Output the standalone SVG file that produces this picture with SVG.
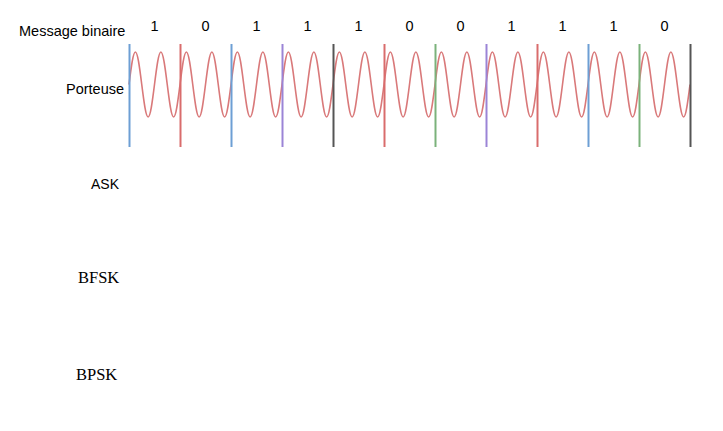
<svg xmlns="http://www.w3.org/2000/svg" width="723" height="431" viewBox="0 0 723 431">
<style>
.sans{font-family:"Liberation Sans",Arial,sans-serif;font-size:14.5px;fill:#000}
.serif{font-family:"Liberation Serif","Times New Roman",serif;font-size:16.5px;fill:#000}
.bit{font-family:"Liberation Sans",Arial,sans-serif;font-size:14.5px;fill:#000;text-anchor:middle}
.v{stroke-width:2;fill:none}
</style>
<rect width="723" height="431" fill="#fff"/>
<g id="labels">
<text class="sans" x="19" y="36">Message binaire</text>
<text class="sans" x="66" y="94">Porteuse</text>
<text class="sans" x="91" y="189" style="font-size:14px">ASK</text>
<text class="serif" x="78" y="283">BFSK</text>
<text class="serif" x="76" y="380">BPSK</text>
</g>
<g id="bits">
<text class="bit" x="154.5" y="31">1</text>
<text class="bit" x="205.5" y="31">0</text>
<text class="bit" x="256.5" y="31">1</text>
<text class="bit" x="307.5" y="31">1</text>
<text class="bit" x="358.5" y="31">1</text>
<text class="bit" x="409.5" y="31">0</text>
<text class="bit" x="460.5" y="31">0</text>
<text class="bit" x="511.5" y="31">1</text>
<text class="bit" x="562.5" y="31">1</text>
<text class="bit" x="613.5" y="31">1</text>
<text class="bit" x="664.5" y="31">0</text>
</g>
<g id="carrier">
<path fill="none" stroke="#d9797a" stroke-width="1.6" d="M129,84.5 c2.131,-17.07 4.066,-32.5 6.375,-32.5
s4.244,15.43 6.375,32.5 s4.066,32.5 6.375,32.5 s4.244,-15.43 6.375,-32.5 s4.066,-32.5 6.375,-32.5
s4.244,15.43 6.375,32.5 s4.066,32.5 6.375,32.5 s4.244,-15.43 6.375,-32.5 s4.066,-32.5 6.375,-32.5
s4.244,15.43 6.375,32.5 s4.066,32.5 6.375,32.5 s4.244,-15.43 6.375,-32.5 s4.066,-32.5 6.375,-32.5
s4.244,15.43 6.375,32.5 s4.066,32.5 6.375,32.5 s4.244,-15.43 6.375,-32.5 s4.066,-32.5 6.375,-32.5
s4.244,15.43 6.375,32.5 s4.066,32.5 6.375,32.5 s4.244,-15.43 6.375,-32.5 s4.066,-32.5 6.375,-32.5
s4.244,15.43 6.375,32.5 s4.066,32.5 6.375,32.5 s4.244,-15.43 6.375,-32.5 s4.066,-32.5 6.375,-32.5
s4.244,15.43 6.375,32.5 s4.066,32.5 6.375,32.5 s4.244,-15.43 6.375,-32.5 s4.066,-32.5 6.375,-32.5
s4.244,15.43 6.375,32.5 s4.066,32.5 6.375,32.5 s4.244,-15.43 6.375,-32.5 s4.066,-32.5 6.375,-32.5
s4.244,15.43 6.375,32.5 s4.066,32.5 6.375,32.5 s4.244,-15.43 6.375,-32.5 s4.066,-32.5 6.375,-32.5
s4.244,15.43 6.375,32.5 s4.066,32.5 6.375,32.5 s4.244,-15.43 6.375,-32.5 s4.066,-32.5 6.375,-32.5
s4.244,15.43 6.375,32.5 s4.066,32.5 6.375,32.5 s4.244,-15.43 6.375,-32.5 s4.066,-32.5 6.375,-32.5
s4.244,15.43 6.375,32.5 s4.066,32.5 6.375,32.5 s4.244,-15.43 6.375,-32.5 s4.066,-32.5 6.375,-32.5
s4.244,15.43 6.375,32.5 s4.066,32.5 6.375,32.5 s4.244,-15.43 6.375,-32.5 s4.066,-32.5 6.375,-32.5
s4.244,15.43 6.375,32.5 s4.066,32.5 6.375,32.5 s4.244,-15.43 6.375,-32.5 s4.066,-32.5 6.375,-32.5
s4.244,15.43 6.375,32.5 s4.066,32.5 6.375,32.5 s4.244,-15.43 6.375,-32.5 s4.066,-32.5 6.375,-32.5
s4.244,15.43 6.375,32.5 s4.066,32.5 6.375,32.5 s4.244,-15.43 6.375,-32.5 s4.066,-32.5 6.375,-32.5
s4.244,15.43 6.375,32.5 s4.066,32.5 6.375,32.5 s4.244,-15.43 6.375,-32.5 s4.066,-32.5 6.375,-32.5
s4.244,15.43 6.375,32.5 s4.066,32.5 6.375,32.5 s4.244,-15.43 6.375,-32.5 s4.066,-32.5 6.375,-32.5
s4.244,15.43 6.375,32.5 s4.066,32.5 6.375,32.5 s4.244,-15.43 6.375,-32.5 s4.066,-32.5 6.375,-32.5
s4.244,15.43 6.375,32.5 s4.066,32.5 6.375,32.5 s4.244,-15.43 6.375,-32.5 s4.066,-32.5 6.375,-32.5
s4.244,15.43 6.375,32.5 s4.066,32.5 6.375,32.5 s4.244,-15.43 6.375,-32.5 s4.066,-32.5 6.375,-32.5
s4.244,15.43 6.375,32.5 s4.066,32.5 6.375,32.5 s4.244,-15.43 6.375,-32.5"/>
</g>
<g id="separators">
<line class="v" x1="129.5" y1="44" x2="129.5" y2="147" stroke="#6d9fd4"/>
<line class="v" x1="180.5" y1="44" x2="180.5" y2="147" stroke="#d96c6c"/>
<line class="v" x1="231.5" y1="44" x2="231.5" y2="147" stroke="#6d9fd4"/>
<line class="v" x1="282.5" y1="44" x2="282.5" y2="147" stroke="#9b84d6"/>
<line class="v" x1="333.5" y1="44" x2="333.5" y2="147" stroke="#555555"/>
<line class="v" x1="384.5" y1="44" x2="384.5" y2="147" stroke="#d96c6c"/>
<line class="v" x1="435.5" y1="44" x2="435.5" y2="147" stroke="#7bb27b"/>
<line class="v" x1="486.5" y1="44" x2="486.5" y2="147" stroke="#9b84d6"/>
<line class="v" x1="537.5" y1="44" x2="537.5" y2="147" stroke="#d96c6c"/>
<line class="v" x1="588.5" y1="44" x2="588.5" y2="147" stroke="#6d9fd4"/>
<line class="v" x1="639.5" y1="44" x2="639.5" y2="147" stroke="#7bb27b"/>
<line class="v" x1="690.5" y1="44" x2="690.5" y2="147" stroke="#555555"/>
</g>
</svg>
